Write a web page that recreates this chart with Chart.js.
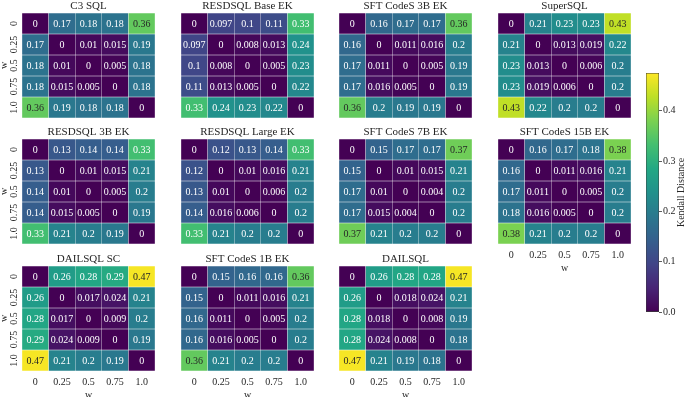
<!DOCTYPE html>
<html><head><meta charset="utf-8">
<script src="https://cdn.jsdelivr.net/npm/chart.js@4.4.1/dist/chart.umd.min.js"></script>
<style>
html,body{margin:0;padding:0;background:#fff;width:685px;height:397px;overflow:hidden;position:relative}
canvas{position:absolute}
</style></head><body>
<script>
// ---------- data ----------
const W_LABELS = ['0', '0.25', '0.5', '0.75', '1.0'];

const C3_SQL = [
  [0, 0.17, 0.18, 0.18, 0.36],
  [0.17, 0, 0.01, 0.015, 0.19],
  [0.18, 0.01, 0, 0.005, 0.18],
  [0.18, 0.015, 0.005, 0, 0.18],
  [0.36, 0.19, 0.18, 0.18, 0]
];
const RESDSQL_BASE_EK = [
  [0, 0.097, 0.1, 0.11, 0.33],
  [0.097, 0, 0.008, 0.013, 0.24],
  [0.1, 0.008, 0, 0.005, 0.23],
  [0.11, 0.013, 0.005, 0, 0.22],
  [0.33, 0.24, 0.23, 0.22, 0]
];
const SFT_CODES_3B_EK = [
  [0, 0.16, 0.17, 0.17, 0.36],
  [0.16, 0, 0.011, 0.016, 0.2],
  [0.17, 0.011, 0, 0.005, 0.19],
  [0.17, 0.016, 0.005, 0, 0.19],
  [0.36, 0.2, 0.19, 0.19, 0]
];
const SUPERSQL = [
  [0, 0.21, 0.23, 0.23, 0.43],
  [0.21, 0, 0.013, 0.019, 0.22],
  [0.23, 0.013, 0, 0.006, 0.2],
  [0.23, 0.019, 0.006, 0, 0.2],
  [0.43, 0.22, 0.2, 0.2, 0]
];
const RESDSQL_3B_EK = [
  [0, 0.13, 0.14, 0.14, 0.33],
  [0.13, 0, 0.01, 0.015, 0.21],
  [0.14, 0.01, 0, 0.005, 0.2],
  [0.14, 0.015, 0.005, 0, 0.19],
  [0.33, 0.21, 0.2, 0.19, 0]
];
const RESDSQL_LARGE_EK = [
  [0, 0.12, 0.13, 0.14, 0.33],
  [0.12, 0, 0.01, 0.016, 0.21],
  [0.13, 0.01, 0, 0.006, 0.2],
  [0.14, 0.016, 0.006, 0, 0.2],
  [0.33, 0.21, 0.2, 0.2, 0]
];
const SFT_CODES_7B_EK = [
  [0, 0.15, 0.17, 0.17, 0.37],
  [0.15, 0, 0.01, 0.015, 0.21],
  [0.17, 0.01, 0, 0.004, 0.2],
  [0.17, 0.015, 0.004, 0, 0.2],
  [0.37, 0.21, 0.2, 0.2, 0]
];
const SFT_CODES_15B_EK = [
  [0, 0.16, 0.17, 0.18, 0.38],
  [0.16, 0, 0.011, 0.016, 0.21],
  [0.17, 0.011, 0, 0.005, 0.2],
  [0.18, 0.016, 0.005, 0, 0.2],
  [0.38, 0.21, 0.2, 0.2, 0]
];
const DAILSQL_SC = [
  [0, 0.26, 0.28, 0.29, 0.47],
  [0.26, 0, 0.017, 0.024, 0.21],
  [0.28, 0.017, 0, 0.009, 0.2],
  [0.29, 0.024, 0.009, 0, 0.19],
  [0.47, 0.21, 0.2, 0.19, 0]
];
const SFT_CODES_1B_EK = [
  [0, 0.15, 0.16, 0.16, 0.36],
  [0.15, 0, 0.011, 0.016, 0.21],
  [0.16, 0.011, 0, 0.005, 0.2],
  [0.16, 0.016, 0.005, 0, 0.2],
  [0.36, 0.21, 0.2, 0.2, 0]
];
const DAILSQL = [
  [0, 0.26, 0.28, 0.28, 0.47],
  [0.26, 0, 0.018, 0.024, 0.21],
  [0.28, 0.018, 0, 0.008, 0.19],
  [0.28, 0.024, 0.008, 0, 0.18],
  [0.47, 0.21, 0.19, 0.18, 0]
];

const CB_TICKS = [0, 0.1, 0.2, 0.3, 0.4];
const CB_LABEL = 'Kendall Distance';
const AXIS_LABEL = 'w';
const VMIN = 0, VMAX = 0.475;

// ---------- style / layout ----------
const FONT = "'Liberation Serif', 'Times New Roman', serif";
const DARK = '#262626';
const VIRIDIS = ['#440154', '#482475', '#414487', '#355f8d', '#2a788e', '#21918c',
                 '#22a884', '#44bf70', '#7ad151', '#bddf26', '#fde725'];
const COL_LEFT = [22, 181, 339, 498];
const ROW_TOP = [13, 139, 266];
const PW = 133, PH = 105;

const PANELS = [
  ['C3 SQL', C3_SQL, 0, 0],
  ['RESDSQL Base EK', RESDSQL_BASE_EK, 0, 1],
  ['SFT CodeS 3B EK', SFT_CODES_3B_EK, 0, 2],
  ['SuperSQL', SUPERSQL, 0, 3],
  ['RESDSQL 3B EK', RESDSQL_3B_EK, 1, 0],
  ['RESDSQL Large EK', RESDSQL_LARGE_EK, 1, 1],
  ['SFT CodeS 7B EK', SFT_CODES_7B_EK, 1, 2],
  ['SFT CodeS 15B EK', SFT_CODES_15B_EK, 1, 3],
  ['DAILSQL SC', DAILSQL_SC, 2, 0],
  ['SFT CodeS 1B EK', SFT_CODES_1B_EK, 2, 1],
  ['DAILSQL', DAILSQL, 2, 2]
];
const BOTTOM = {'2,0': 1, '2,1': 1, '2,2': 1, '1,3': 1};

function hexToRgb(h) { return [1, 3, 5].map(i => parseInt(h.substr(i, 2), 16)); }
function viridisRgb(v) {
  let t = (v - VMIN) / (VMAX - VMIN);
  t = Math.max(0, Math.min(1, t));
  const n = VIRIDIS.length - 1;
  const k = Math.min(n - 1, Math.floor(t * n));
  const f = t * n - k;
  const a = hexToRgb(VIRIDIS[k]), b = hexToRgb(VIRIDIS[k + 1]);
  return a.map((c, i) => Math.round(c + (b[i] - c) * f));
}
function viridis(v) { const c = viridisRgb(v); return `rgb(${c[0]},${c[1]},${c[2]})`; }
function textColor(v) {
  const lin = viridisRgb(v).map(c => { c /= 255; return c <= 0.03928 ? c / 12.92 : Math.pow((c + 0.055) / 1.055, 2.4); });
  const lum = 0.2126 * lin[0] + 0.7152 * lin[1] + 0.0722 * lin[2];
  return lum > 0.408 ? DARK : '#ffffff';
}

const cellText = {
  id: 'cellText',
  afterDatasetsDraw(chart) {
    const ctx = chart.ctx;
    ctx.save();
    ctx.font = `10px ${FONT}`;
    ctx.textAlign = 'center';
    ctx.textBaseline = 'middle';
    chart.data.datasets.forEach((ds, i) => {
      chart.getDatasetMeta(i).data.forEach((el, j) => {
        const p = el.getProps(['x', 'y', 'base'], true);
        const v = ds.values[j];
        ctx.fillStyle = textColor(v);
        ctx.fillText(String(v), p.x, (p.y + p.base) / 2 + 0.5);
      });
    });
    ctx.restore();
  }
};

function makePanel(title, matrix, r, c) {
  const showY = c === 0;
  const showX = !!BOTTOM[r + ',' + c];
  const LM = showY ? 22 : 0;
  const TH = 15;
  const BM = showX ? 30 : 8;
  const cv = document.createElement('canvas');
  const w = LM + PW, h = TH + PH + BM;
  cv.width = w; cv.height = h;
  cv.style.width = w + 'px'; cv.style.height = h + 'px';
  cv.style.left = (COL_LEFT[c] - LM) + 'px';
  cv.style.top = (ROW_TOP[r] - TH) + 'px';
  document.body.appendChild(cv);

  const datasets = matrix.map((rowVals, i) => ({
    data: rowVals.map(() => [i, i + 1]),
    values: rowVals,
    backgroundColor: rowVals.map(v => viridis(v)),
    borderWidth: 0.5,
    borderColor: 'rgba(255,255,255,0.045)',
    borderSkipped: false,
    grouped: false,
    barPercentage: 1,
    categoryPercentage: 1
  }));

  const xScale = {
    type: 'category', display: showX, offset: true,
    grid: { display: false, drawTicks: false }, border: { display: false },
    ticks: { color: DARK, font: { family: FONT, size: 10 }, padding: 5, maxRotation: 0, autoSkip: false },
    title: { display: true, text: AXIS_LABEL, color: DARK, font: { family: FONT, size: 10 }, padding: { top: 0, bottom: 0 } }
  };
  if (showX) xScale.afterFit = s => { s.height = 30; };

  const yScale = {
    type: 'linear', display: showY, min: 0, max: 5, reverse: true,
    grid: { display: false, drawTicks: false }, border: { display: false },
    afterBuildTicks: s => { s.ticks = W_LABELS.map((_, i) => ({ value: i + 0.5 })); },
    ticks: {
      color: DARK, font: { family: FONT, size: 10 }, minRotation: 90, maxRotation: 90,
      crossAlign: 'center', padding: -1,
      callback: v => W_LABELS[Math.floor(v)]
    },
    title: { display: true, text: AXIS_LABEL, color: DARK, font: { family: FONT, size: 10 }, padding: { top: -2, bottom: 0 } }
  };
  if (showY) yScale.afterFit = s => { s.width = 22; };

  new Chart(cv, {
    type: 'bar',
    data: { labels: W_LABELS, datasets },
    options: {
      responsive: false,
      animation: false,
      devicePixelRatio: 1,
      layout: { padding: { left: 0, right: 0, top: 0, bottom: showX ? 0 : 8 } },
      plugins: {
        legend: { display: false },
        tooltip: { enabled: false },
        title: {
          display: true, text: title, fullSize: false, color: DARK,
          font: { family: FONT, size: 11, weight: 'normal', lineHeight: '14px' },
          padding: { top: 1, bottom: 0 }
        }
      },
      scales: { x: xScale, y: yScale }
    },
    plugins: [cellText]
  });
}

PANELS.forEach(p => makePanel(p[0], p[1], p[2], p[3]));

// ---------- colorbar ----------
(function () {
  const CB_LEFT = 646, CB_TOP = 73, CB_W = 13, CB_H = 239, AX_W = 26, PAD = 8;
  const cv = document.createElement('canvas');
  const w = CB_W + AX_W, h = CB_H + 2 * PAD;
  cv.width = w; cv.height = h;
  cv.style.width = w + 'px'; cv.style.height = h + 'px';
  cv.style.left = CB_LEFT + 'px'; cv.style.top = (CB_TOP - PAD) + 'px';
  document.body.appendChild(cv);

  const cbTitle = {
    id: 'cbTitle',
    afterDraw(chart) {
      const ctx = chart.ctx, a = chart.chartArea;
      ctx.save();
      ctx.font = `10px ${FONT}`;
      ctx.fillStyle = DARK;
      ctx.textAlign = 'center';
      ctx.textBaseline = 'middle';
      ctx.translate(chart.width - 4, (a.top + a.bottom) / 2);
      ctx.rotate(-Math.PI / 2);
      ctx.fillText(CB_LABEL, 0, 0);
      ctx.restore();
    }
  };

  new Chart(cv, {
    type: 'bar',
    data: {
      labels: [''],
      datasets: [{
        data: [[VMIN, VMAX]],
        backgroundColor: (c) => {
          const ch = c.chart, ys = ch.scales.y;
          if (!ch.chartArea || !ys) return VIRIDIS[0];
          const g = ch.ctx.createLinearGradient(0, ys.getPixelForValue(VMIN), 0, ys.getPixelForValue(VMAX));
          VIRIDIS.forEach((col, k) => g.addColorStop(k / (VIRIDIS.length - 1), col));
          return g;
        },
        borderWidth: 0.8,
        borderColor: '#3a3a3a',
        borderSkipped: false,
        barPercentage: 1,
        categoryPercentage: 1
      }]
    },
    options: {
      responsive: false,
      animation: false,
      devicePixelRatio: 1,
      layout: { padding: { top: PAD, bottom: PAD, left: 0, right: 0 } },
      plugins: { legend: { display: false }, tooltip: { enabled: false }, title: { display: false } },
      scales: {
        x: { display: false, offset: true },
        y: {
          type: 'linear', position: 'right', min: VMIN, max: VMAX,
          afterBuildTicks: s => { s.ticks = CB_TICKS.map(v => ({ value: v })); },
          grid: { display: true, drawOnChartArea: false, drawTicks: true, tickLength: 3, color: '#333', lineWidth: 0.8 },
          border: { display: false },
          ticks: { color: DARK, font: { family: FONT, size: 10 }, padding: 1, callback: v => v.toFixed(1) },
          afterFit: s => { s.width = AX_W; }
        }
      }
    },
    plugins: [cbTitle]
  });
})();
</script>
</body></html>
